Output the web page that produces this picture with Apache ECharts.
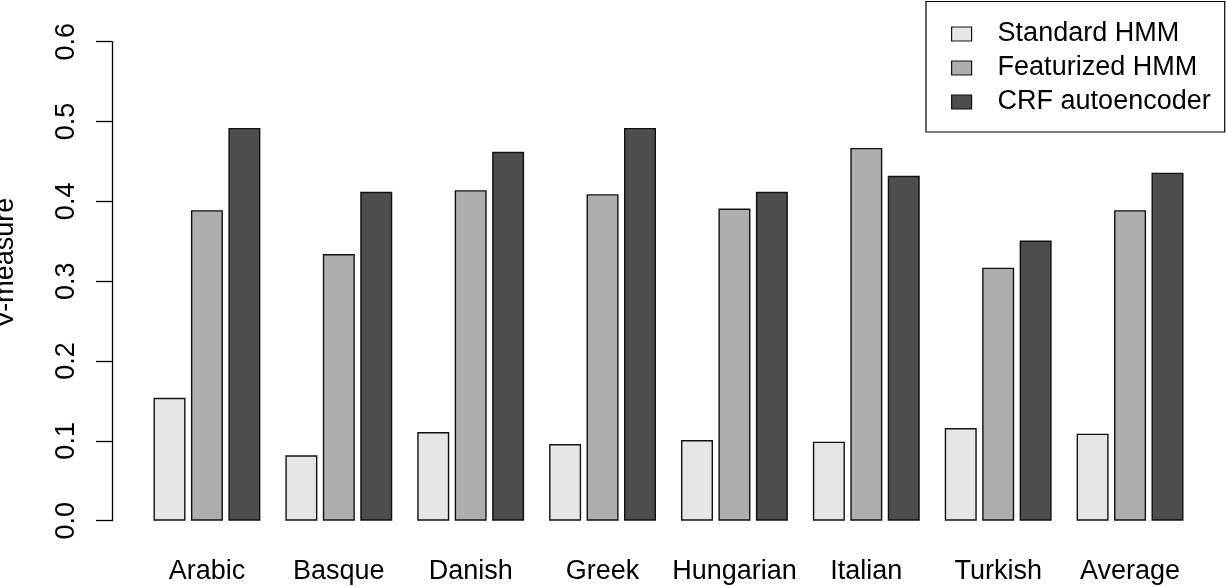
<!DOCTYPE html>
<html>
<head>
<meta charset="utf-8">
<script src="https://cdn.jsdelivr.net/npm/echarts@6/dist/echarts.min.js"></script>
<style>
html,body{margin:0;padding:0;background:#fff;}
#chart{width:1227px;height:587px;}
</style>
</head>
<body>
<div id="chart"></div>
<script>
var categories = ['Arabic','Basque','Danish','Greek','Hungarian','Italian','Turkish','Average'];
var seriesNames = ['Standard HMM','Featurized HMM','CRF autoencoder'];
var standardHMM = [0.154, 0.082, 0.111, 0.096, 0.101, 0.099, 0.116, 0.109];
var featurizedHMM = [0.389, 0.334, 0.414, 0.409, 0.391, 0.467, 0.317, 0.389];
var crfAutoencoder = [0.492, 0.412, 0.462, 0.492, 0.412, 0.432, 0.351, 0.436];
var yTicks = [0.0, 0.1, 0.2, 0.3, 0.4, 0.5, 0.6];
var yTitle = 'V-measure';
var colors = ['#E6E6E6','#AEAEAE','#4D4D4D'];

var font = 'Liberation Sans, Arial, Helvetica, sans-serif';
var chart = echarts.init(document.getElementById('chart'), null, {renderer:'canvas'});

function barSeries(name, data, color){
  return {
    name: name,
    type: 'bar',
    data: data,
    barWidth: 32,
    barGap: '17%',
    itemStyle: {color: color, borderColor: '#111', borderWidth: 1.4},
    emphasis: {disabled: true},
    animation: false
  };
}

chart.setOption({
  animation: false,
  backgroundColor: '#ffffff',
  textStyle: {fontFamily: font},
  grid: {left: 141, right: 31, top: 41.7, bottom: 66.3, containLabel: false, outerBoundsMode: 'none'},
  legend: {
    orient: 'vertical',
    left: 926,
    top: 1.5,
    data: seriesNames,
    itemWidth: 20,
    itemHeight: 14,
    itemGap: 7,
    icon: 'rect',
    itemStyle: {borderColor: '#111', borderWidth: 1.2},
    borderColor: '#000',
    borderWidth: 1.2,
    padding: [19, 14, 16.5, 25],
    textStyle: {fontSize: 27, color: '#000', fontFamily: font, padding: [0, 0, 0, 21]},
    selectedMode: false
  },
  graphic: [{
    type: 'text',
    x: 6,
    y: 263,
    rotation: Math.PI / 2,
    silent: true,
    style: {
      text: yTitle,
      fontSize: 27,
      fontFamily: font,
      fill: '#000',
      align: 'center',
      verticalAlign: 'middle'
    }
  }],
  xAxis: {
    type: 'category',
    data: categories,
    boundaryGap: true,
    axisLine: {show: false},
    axisTick: {show: false},
    axisLabel: {fontSize: 27, color: '#000', margin: 37, interval: 0, fontFamily: font},
    splitLine: {show: false}
  },
  yAxis: {
    type: 'value',
    min: yTicks[0],
    max: yTicks[yTicks.length - 1],
    interval: 0.1,
    offset: 29,
    axisLine: {show: true, lineStyle: {color: '#000', width: 1.3}},
    axisTick: {show: true, length: 16, inside: false, lineStyle: {color: '#000', width: 1.3}},
    axisLabel: {fontSize: 27, color: '#000', rotate: 90, margin: 32, fontFamily: font,
      formatter: function(v){ return v.toFixed(1); }},
    splitLine: {show: false}
  },
  series: [
    barSeries(seriesNames[0], standardHMM, colors[0]),
    barSeries(seriesNames[1], featurizedHMM, colors[1]),
    barSeries(seriesNames[2], crfAutoencoder, colors[2])
  ]
});
</script>
</body>
</html>
